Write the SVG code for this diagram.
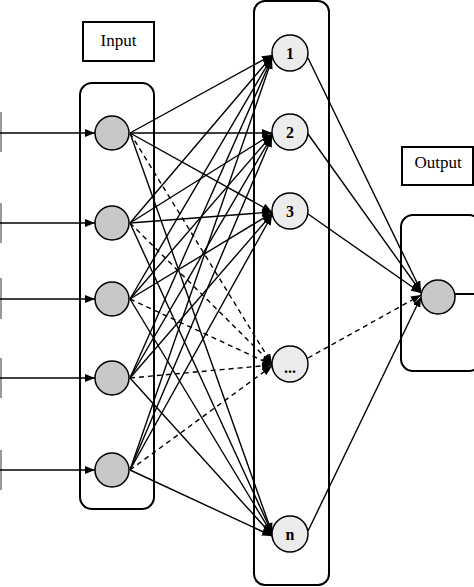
<svg xmlns="http://www.w3.org/2000/svg" width="474" height="587" viewBox="0 0 474 587">
<style>
.box{fill:#fff;stroke:#000;stroke-width:2}
.cont{fill:none;stroke:#000;stroke-width:2}
.in{fill:#c8c8c8;stroke:#000;stroke-width:1.5}
.hid{fill:#ececec;stroke:#000;stroke-width:1.5}
.lbl{font-family:"Liberation Serif",serif;font-size:17px;fill:#000}
.num{font-family:"Liberation Serif",serif;font-size:16px;font-weight:bold;fill:#000;text-anchor:middle}
.c{stroke:#000;stroke-width:1.4;fill:none;marker-end:url(#ah)}
.d{stroke-dasharray:5 4}
.tick{fill:#999}
</style>
<defs>
<marker id="ah" viewBox="0 0 10 8" refX="10" refY="4" markerWidth="10" markerHeight="8" markerUnits="userSpaceOnUse" orient="auto">
<path d="M0,0 L10,4 L0,8 z" fill="#000"/>
</marker>
</defs>
<rect x="254" y="1" width="75" height="584" rx="11" class="cont"/>
<rect x="80" y="83" width="74" height="426" rx="12" class="cont"/>
<rect x="401" y="215" width="80" height="156" rx="12" class="cont"/>
<g id="input-label"><rect x="83" y="22" width="71" height="39" class="box"/><text x="118.5" y="46" class="lbl" text-anchor="middle">Input</text></g>
<g id="output-label"><rect x="402" y="147" width="71" height="38" class="box"/><text x="438" y="168" class="lbl" text-anchor="middle">Output</text></g>
<g id="connectors">
<rect x="0" y="112" width="2" height="40" class="tick"/>
<rect x="0" y="203" width="2" height="40" class="tick"/>
<rect x="0" y="278" width="2" height="41" class="tick"/>
<rect x="0" y="358" width="2" height="40" class="tick"/>
<rect x="0" y="450" width="2" height="40" class="tick"/>
<line x1="0" y1="133" x2="95" y2="133" class="c"/>
<line x1="0" y1="223" x2="95" y2="223" class="c"/>
<line x1="0" y1="299" x2="95" y2="299" class="c"/>
<line x1="0" y1="378" x2="95" y2="378" class="c"/>
<line x1="0" y1="470" x2="95" y2="470" class="c"/>
<line x1="130" y1="133" x2="272" y2="55" class="c"/>
<line x1="130" y1="133" x2="272" y2="133" class="c"/>
<line x1="130" y1="133" x2="272" y2="212" class="c"/>
<line x1="130" y1="133" x2="272" y2="364" class="c d"/>
<line x1="130" y1="133" x2="272" y2="533" class="c"/>
<line x1="130" y1="223" x2="272" y2="56" class="c"/>
<line x1="130" y1="223" x2="272" y2="134" class="c"/>
<line x1="130" y1="223" x2="272" y2="212" class="c"/>
<line x1="130" y1="223" x2="272" y2="364" class="c d"/>
<line x1="130" y1="223" x2="272" y2="533" class="c"/>
<line x1="130" y1="299" x2="272" y2="57" class="c"/>
<line x1="130" y1="299" x2="272" y2="135" class="c"/>
<line x1="130" y1="299" x2="272" y2="213" class="c"/>
<line x1="130" y1="299" x2="272" y2="365" class="c d"/>
<line x1="130" y1="299" x2="272" y2="534" class="c"/>
<line x1="130" y1="378" x2="272" y2="58" class="c"/>
<line x1="130" y1="378" x2="272" y2="136" class="c"/>
<line x1="130" y1="378" x2="272" y2="214" class="c"/>
<line x1="130" y1="378" x2="272" y2="365" class="c d"/>
<line x1="130" y1="378" x2="272" y2="535" class="c"/>
<line x1="130" y1="470" x2="272" y2="59" class="c"/>
<line x1="130" y1="470" x2="272" y2="137" class="c"/>
<line x1="130" y1="470" x2="272" y2="215" class="c"/>
<line x1="130" y1="470" x2="272" y2="366" class="c d"/>
<line x1="130" y1="470" x2="272" y2="536" class="c"/>
<line x1="308" y1="58" x2="421" y2="291" class="c"/>
<line x1="308" y1="134" x2="421" y2="292" class="c"/>
<line x1="308" y1="214" x2="421" y2="293" class="c"/>
<line x1="308" y1="358" x2="421" y2="295" class="c d"/>
<line x1="308" y1="531" x2="421" y2="297" class="c"/>
<line x1="455" y1="294" x2="474" y2="294" stroke="#000" stroke-width="2"/>
</g>
<g id="in1"><circle cx="112" cy="133" r="17" class="in"/></g>
<g id="in2"><circle cx="112" cy="223" r="17" class="in"/></g>
<g id="in3"><circle cx="112" cy="299" r="17" class="in"/></g>
<g id="in4"><circle cx="112" cy="378" r="17" class="in"/></g>
<g id="in5"><circle cx="112" cy="470" r="17" class="in"/></g>
<g id="h1"><circle cx="290" cy="53" r="18" class="hid"/><text x="290" y="58.5" class="num">1</text></g>
<g id="h2"><circle cx="290" cy="132" r="18" class="hid"/><text x="290" y="137.5" class="num">2</text></g>
<g id="h3"><circle cx="290" cy="211" r="18" class="hid"/><text x="290" y="216.5" class="num">3</text></g>
<g id="hdots"><circle cx="290" cy="364" r="18" class="hid"/><text x="290" y="373" class="num">...</text></g>
<g id="hn"><circle cx="290" cy="534" r="18" class="hid"/><text x="290" y="539.5" class="num">n</text></g>
<g id="out"><circle cx="438" cy="297" r="17" class="in"/></g>
</svg>
